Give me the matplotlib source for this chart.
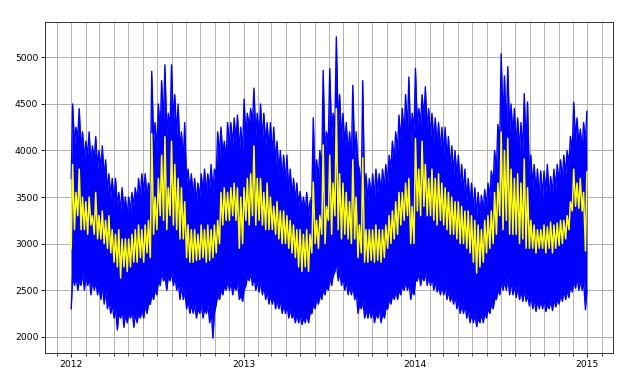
import numpy as np
import pandas as pd
import matplotlib
matplotlib.use("Agg")
import matplotlib.pyplot as plt
import matplotlib.dates as mdates

# Blue band (hourly load). Top edge: weekday peak (mid-week) and weekend peak (Sunday).
upper_2012 = [4500, 4250, 4450, 4200,
              4100, 4200, 4050, 4150, 4000,
              4050, 3900, 3750, 3700,
              3700, 3550, 3600, 3500,
              3500, 3550, 3600, 3700, 3750,
              3750, 3650, 4850, 4300,
              4500, 4750, 4920, 4400,
              4920, 4600, 4500, 4200, 4300,
              3800, 3750, 3700, 3650,
              3750, 3800, 3750, 3850, 3800,
              4200, 4250, 4100, 4300,
              4300, 4350, 4380, 4250]
upper_2013 = [4550, 4400, 4450, 4670, 4400,
              4500, 4400, 4300, 4300,
              4250, 4100, 4000, 3950,
              3950, 3800, 3700, 3650,
              3560, 3500, 3550, 3450, 4350,
              3900, 4000, 4860, 4200,
              4880, 4400, 5220, 4600, 4400,
              4300, 4200, 4700, 4200,
              3800, 4750, 3750, 3700,
              3750, 3800, 3750, 3800, 3850,
              3950, 4100, 4200, 4380,
              4450, 4600, 4790, 4400]
upper_2014 = [4880, 4450, 4600, 4685, 4450,
              4400, 4350, 4300, 4250,
              4250, 4150, 4050, 4000,
              3950, 3850, 3800, 3700, 3650,
              3600, 3550, 3520, 3580,
              3650, 3780, 4000, 4280,
              5040, 4800, 4900, 4500, 4450,
              4350, 4300, 4610, 4520,
              3950, 3850, 3800, 3780,
              3780, 3850, 3720, 3800, 3850,
              3900, 3950, 4000, 4150,
              4520, 4350, 4230, 4300, 4420]

wkend_upper_2012 = [3700, 4050, 4150, 4000,
                    3900, 3950, 3850, 3900, 3800,
                    3800, 3700, 3550, 3500,
                    3450, 3400, 3350, 3350,
                    3300, 3350, 3400, 3450, 3500,
                    3550, 3500, 3550, 4100,
                    4000, 4200, 4300, 4150,
                    4250, 4300, 4150, 4000, 3900,
                    3650, 3550, 3500, 3450,
                    3500, 3550, 3550, 3600, 3550,
                    3750, 3950, 3950, 3900,
                    4050, 4050, 4100, 4000]
wkend_upper_2013 = [4000, 4150, 4250, 4300, 4150,
                    4150, 4100, 4050, 4000,
                    3950, 3850, 3750, 3700,
                    3650, 3550, 3500, 3450,
                    3400, 3350, 3350, 3300, 3500,
                    3650, 3700, 3800, 3950,
                    4100, 4150, 4300, 4250, 4100,
                    4050, 3950, 3900, 3900,
                    3850, 3550, 3500, 3450,
                    3500, 3500, 3550, 3550, 3600,
                    3650, 3800, 3900, 4000,
                    4100, 4150, 4200, 4100]
wkend_upper_2014 = [4200, 4250, 4300, 4350, 4200,
                    4150, 4100, 4050, 4000,
                    3950, 3900, 3800, 3750,
                    3700, 3600, 3550, 3450, 3400,
                    3350, 3300, 3300, 3350,
                    3400, 3500, 3650, 3800,
                    4100, 4300, 4200, 4200, 4150,
                    4050, 4000, 4000, 4050,
                    3700, 3600, 3550, 3500,
                    3500, 3550, 3500, 3550, 3600,
                    3650, 3700, 3750, 3850,
                    4000, 4100, 4050, 4000, 4100]

# Bottom edge: weekend night minimum (Sunday) and weekday night minimum (mid-week)
lower_2012 = [2300, 2550, 2500, 2550,
              2500, 2550, 2450, 2500, 2450,
              2400, 2350, 2300, 2250,
              2200, 2072, 2200, 2100,
              2150, 2200, 2100, 2150, 2200,
              2200, 2250, 2350, 2400,
              2450, 2550, 2600, 2500,
              2600, 2550, 2500, 2400, 2400,
              2300, 2250, 2250, 2200,
              2250, 2200, 2250, 2150, 1985,
              2350, 2400, 2450, 2500,
              2500, 2450, 2500, 2400]
lower_2013 = [2380, 2550, 2600, 2550, 2500,
              2480, 2450, 2400, 2350,
              2350, 2300, 2300, 2250,
              2250, 2200, 2200, 2150,
              2150, 2130, 2150, 2150, 2250,
              2300, 2350, 2400, 2450,
              2500, 2550, 2700, 2600, 2550,
              2500, 2450, 2450, 2400,
              2250, 2300, 2200, 2200,
              2200, 2150, 2200, 2150, 2200,
              2300, 2350, 2400, 2400,
              2450, 2500, 2500, 2400]
lower_2014 = [2450, 2600, 2550, 2600, 2550,
              2550, 2500, 2480, 2450,
              2450, 2400, 2380, 2350,
              2300, 2250, 2250, 2200, 2150,
              2150, 2107, 2150, 2150,
              2200, 2250, 2300, 2400,
              2450, 2500, 2500, 2450, 2450,
              2420, 2400, 2380, 2380,
              2330, 2300, 2270, 2300,
              2300, 2270, 2300, 2280, 2320,
              2350, 2380, 2400, 2420,
              2480, 2520, 2500, 2500, 2290]

wkday_lower_2012 = [2650, 2650, 2600, 2700,
                    2650, 2650, 2600, 2600, 2550,
                    2550, 2500, 2400, 2350,
                    2300, 2250, 2300, 2250,
                    2250, 2300, 2250, 2250, 2300,
                    2350, 2350, 2450, 2500,
                    2600, 2700, 2650, 2650,
                    2700, 2650, 2600, 2550, 2500,
                    2400, 2350, 2350, 2300,
                    2350, 2300, 2350, 2300, 2250,
                    2450, 2500, 2550, 2600,
                    2600, 2550, 2600, 2450]
wkday_lower_2013 = [2500, 2650, 2700, 2650, 2600,
                    2600, 2550, 2500, 2450,
                    2450, 2400, 2400, 2350,
                    2350, 2300, 2250, 2250,
                    2250, 2200, 2250, 2250, 2350,
                    2400, 2450, 2500, 2550,
                    2650, 2650, 2800, 2700, 2650,
                    2600, 2550, 2550, 2500,
                    2350, 2400, 2300, 2300,
                    2300, 2250, 2300, 2250, 2300,
                    2400, 2450, 2500, 2500,
                    2550, 2600, 2600, 2500]
wkday_lower_2014 = [2600, 2700, 2650, 2700, 2650,
                    2650, 2600, 2550, 2550,
                    2550, 2500, 2450, 2450,
                    2400, 2350, 2350, 2300, 2250,
                    2250, 2200, 2250, 2250,
                    2300, 2350, 2400, 2500,
                    2600, 2600, 2650, 2600, 2550,
                    2550, 2500, 2500, 2450,
                    2450, 2400, 2400, 2400,
                    2400, 2350, 2400, 2400, 2400,
                    2450, 2500, 2500, 2550,
                    2600, 2650, 2600, 2600, 2500]

# Daily mean (yellow): weekday level (mid-week) and weekend dip (Sunday)
high_2012 = [3850, 3550, 3800, 3500,
             3450, 3500, 3300, 3550, 3300,
             3350, 3250, 3300, 3150,
             3100, 3150, 3050, 3050,
             3050, 3100, 3150, 3200, 3150,
             3200, 3250, 4180, 3500,
             3700, 3950, 4150, 3600,
             4100, 3850, 3700, 3600, 3450,
             3200, 3150, 3150, 3100,
             3200, 3150, 3200, 3150, 3200,
             3250, 3550, 3600, 3550,
             3600, 3650, 3600, 3500]
high_2013 = [3600, 3700, 3750, 4050, 3700,
             3700, 3550, 3650, 3500,
             3400, 3450, 3350, 3350,
             3300, 3250, 3200, 3150,
             3150, 3100, 3150, 3100, 3660,
             3250, 3300, 4060, 3400,
             3950, 3650, 4450, 3750, 3650,
             3550, 3450, 3900, 3500,
             3200, 3920, 3150, 3150,
             3150, 3200, 3150, 3150, 3200,
             3300, 3350, 3450, 3550,
             3550, 3650, 3700, 3400]
high_2014 = [4130, 3800, 4100, 3850, 3700,
             3800, 3700, 3750, 3650,
             3600, 3550, 3500, 3450,
             3450, 3400, 3350, 3350, 3300,
             3250, 3200, 3150, 3250,
             3300, 3350, 3550, 3650,
             4200, 4000, 4130, 3800, 3700,
             3750, 3650, 3910, 3600,
             3250, 3200, 3150, 3150,
             3200, 3180, 3230, 3200, 3220,
             3250, 3250, 3300, 3450,
             3800, 3650, 3700, 3550, 3770]

low_2012 = [2950, 3150, 3300, 3150,
            3150, 3100, 3200, 3100, 3050,
            3050, 3000, 2950, 2900,
            2800, 2750, 2630, 2750,
            2700, 2750, 2800, 2800, 2850,
            2800, 2900, 2850, 3100,
            3150, 3300, 3250, 3150,
            3300, 3200, 3150, 3050, 3050,
            2850, 2800, 2800, 2820,
            2830, 2850, 2800, 2820, 2850,
            2900, 3000, 3200, 3250,
            3250, 3300, 3250, 2950]
low_2013 = [3000, 3250, 3200, 3300, 3200,
            3250, 3200, 3150, 3150,
            3150, 3100, 3050, 3000,
            3000, 2950, 2900, 2850,
            2750, 2700, 2750, 2700, 2900,
            3000, 2950, 3100, 3000,
            3250, 3100, 3300, 3150, 3050,
            3100, 3050, 3000, 3050,
            2850, 2900, 2800, 2800,
            2820, 2800, 2820, 2800, 2850,
            2950, 3000, 3050, 3100,
            3200, 3250, 3300, 3000]
low_2014 = [3000, 3350, 3300, 3400, 3300,
            3300, 3250, 3200, 3250,
            3200, 3150, 3100, 3100,
            3050, 3000, 3000, 2950, 2900,
            2800, 2684, 2750, 2800,
            2900, 2950, 3000, 3100,
            3300, 3150, 3250, 3100, 3100,
            3100, 3000, 3050, 2950,
            2950, 2950, 2900, 2950,
            2950, 2900, 2950, 2900, 2950,
            2980, 3000, 3050, 3150,
            3350, 3400, 3380, 3350, 2920]

upper = upper_2012 + upper_2013 + upper_2014
wkend_upper = wkend_upper_2012 + wkend_upper_2013 + wkend_upper_2014
lower = lower_2012 + lower_2013 + lower_2014
wkday_lower = wkday_lower_2012 + wkday_lower_2013 + wkday_lower_2014
high = high_2012 + high_2013 + high_2014
low = low_2012 + low_2013 + low_2014

n = len(upper)
sundays = pd.date_range("2012-01-01", periods=n, freq="7D")
midweek = sundays + pd.Timedelta(days=3)


def interleave(d1, v1, d2, v2):
    xs, ys = [], []
    for a, b, c, d in zip(d1, v1, d2, v2):
        xs += [a, c]
        ys += [b, d]
    return xs, ys


tx, top = interleave(sundays, wkend_upper, midweek, upper)
_, bottom = interleave(sundays, lower, midweek, wkday_lower)
yx, yy = interleave(sundays, low, midweek, high)

fig = plt.figure(figsize=(6.24, 3.83), dpi=100)
ax = fig.add_axes([0.0726, 0.0783, 0.9094, 0.8643])

ax.fill_between(tx, bottom, top, color="#0000ff", lw=0, zorder=2)
ax.plot(tx, top, color="#0000ff", lw=1.0, zorder=2)
ax.plot(tx, bottom, color="#0000ff", lw=1.0, zorder=2)
ax.plot(yx, yy, color="#ffff00", lw=1.1, zorder=3)

ax.xaxis.set_major_locator(mdates.YearLocator())
ax.xaxis.set_major_formatter(mdates.DateFormatter("%Y"))
ax.xaxis.set_minor_locator(mdates.MonthLocator())
ax.set_yticks([2000, 2500, 3000, 3500, 4000, 4500, 5000])
ax.set_xlim(pd.Timestamp("2011-11-07"), pd.Timestamp("2015-02-24"))
ax.set_ylim(1825, 5380)

ax.grid(True, which="both", color="#b0b0b0", lw=0.7, zorder=0)
ax.set_axisbelow(True)
ax.tick_params(axis="both", which="major", labelsize=6.6, length=3, width=0.6, pad=2)
ax.tick_params(axis="x", which="minor", length=2, width=0.5)
for s in ax.spines.values():
    s.set_linewidth(0.7)
    s.set_color("#333333")

fig.savefig("out.png", dpi=100)
